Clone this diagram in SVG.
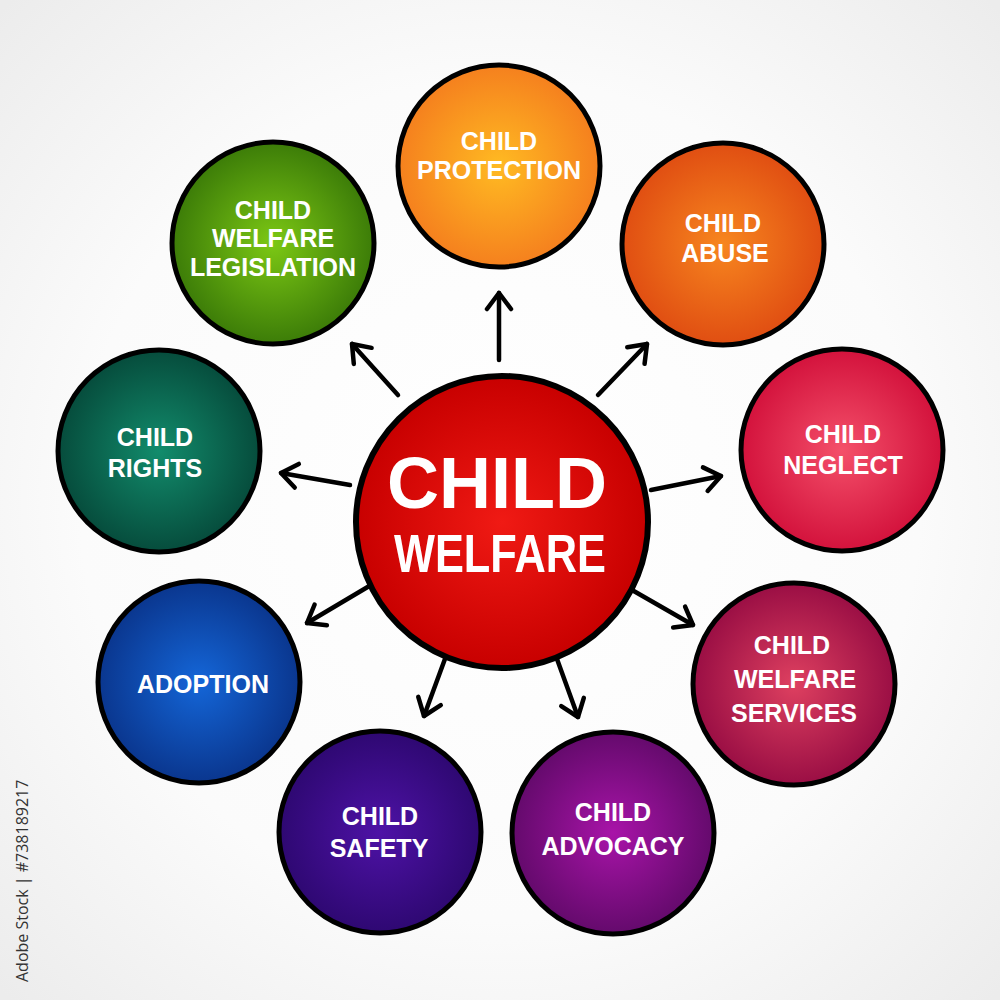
<svg xmlns="http://www.w3.org/2000/svg" width="1000" height="1000" viewBox="0 0 1000 1000">
<defs>
<radialGradient id="bg" cx="50%" cy="50%" r="70%"><stop offset="0" stop-color="#ffffff"/><stop offset="0.6" stop-color="#fbfbfb"/><stop offset="1" stop-color="#ececec"/></radialGradient>
<radialGradient id="gCenter"><stop offset="0" stop-color="#f01a14"/><stop offset="1" stop-color="#c80000"/></radialGradient>
<radialGradient id="gProt"><stop offset="0" stop-color="#ffba22"/><stop offset="1" stop-color="#f5801e"/></radialGradient>
<radialGradient id="gAbuse"><stop offset="0" stop-color="#f7861f"/><stop offset="1" stop-color="#e04e12"/></radialGradient>
<radialGradient id="gNeg"><stop offset="0" stop-color="#f4506a"/><stop offset="1" stop-color="#d3123c"/></radialGradient>
<radialGradient id="gServ"><stop offset="0" stop-color="#de4060"/><stop offset="1" stop-color="#9a0e44"/></radialGradient>
<radialGradient id="gAdv"><stop offset="0" stop-color="#a814a8"/><stop offset="1" stop-color="#640a6c"/></radialGradient>
<radialGradient id="gSafe"><stop offset="0" stop-color="#4e12a6"/><stop offset="1" stop-color="#2e0872"/></radialGradient>
<radialGradient id="gAdop"><stop offset="0" stop-color="#1466d8"/><stop offset="1" stop-color="#0a368e"/></radialGradient>
<radialGradient id="gRights"><stop offset="0" stop-color="#128c6c"/><stop offset="1" stop-color="#064c3c"/></radialGradient>
<radialGradient id="gLeg"><stop offset="0" stop-color="#7cc814"/><stop offset="1" stop-color="#3c7c08"/></radialGradient>
<marker id="arr" markerUnits="userSpaceOnUse" markerWidth="40" markerHeight="40" viewBox="-20 -20 40 40" refX="0" refY="0" orient="auto">
<path d="M -16 -12 L 0 0 L -16 12" fill="none" stroke="#000" stroke-width="4.5" stroke-linecap="round" stroke-linejoin="round"/>
</marker>
<style>
.node{stroke:#000;stroke-width:5}
.lbl{font-family:"Liberation Sans","Arial",sans-serif;font-weight:bold;font-size:25px;fill:#fff;text-anchor:middle;dominant-baseline:central}
.big{font-size:72px}
.conn{stroke:#000;stroke-width:4.5;stroke-linecap:round;fill:none;marker-end:url(#arr)}
.side{font-family:"Open Sans","Liberation Sans",sans-serif;font-size:16px;fill:#333333}
</style>
</defs>
<rect width="1000" height="1000" fill="url(#bg)"/>
<text class="side" transform="translate(28,982) rotate(-90)">Adobe Stock | #738189217</text>
<g id="connectors">
<line class="conn" x1="499" y1="360" x2="499" y2="293"/>
<line class="conn" x1="598" y1="395" x2="647" y2="344"/>
<line class="conn" x1="651" y1="490" x2="721" y2="476"/>
<line class="conn" x1="632" y1="590" x2="693" y2="625"/>
<line class="conn" x1="553" y1="648" x2="578" y2="717"/>
<line class="conn" x1="449" y1="648" x2="424" y2="716"/>
<line class="conn" x1="371" y1="585" x2="307" y2="623"/>
<line class="conn" x1="350" y1="485" x2="281" y2="473"/>
<line class="conn" x1="398" y1="395" x2="352" y2="344"/>
</g>
<g id="center">
<circle cx="502" cy="522" r="146" fill="url(#gCenter)" stroke="#000" stroke-width="6"/>
<text class="lbl big" x="497" y="483">CHILD</text>
<text class="lbl" x="500" y="553" style="font-size:54px" textLength="212" lengthAdjust="spacingAndGlyphs">WELFARE</text>
</g>
<g id="child-protection">
<circle class="node" cx="499" cy="166" r="101" fill="url(#gProt)"/>
<text class="lbl" x="499" y="141">CHILD</text>
<text class="lbl" x="499" y="170">PROTECTION</text>
</g>
<g id="child-abuse">
<circle class="node" cx="723" cy="244" r="101" fill="url(#gAbuse)"/>
<text class="lbl" x="723" y="223">CHILD</text>
<text class="lbl" x="725" y="253">ABUSE</text>
</g>
<g id="child-neglect">
<circle class="node" cx="842" cy="450" r="101" fill="url(#gNeg)"/>
<text class="lbl" x="843" y="434">CHILD</text>
<text class="lbl" x="843" y="465">NEGLECT</text>
</g>
<g id="child-welfare-services">
<circle class="node" cx="794" cy="684" r="101" fill="url(#gServ)"/>
<text class="lbl" x="792" y="645">CHILD</text>
<text class="lbl" x="795" y="679">WELFARE</text>
<text class="lbl" x="794" y="713">SERVICES</text>
</g>
<g id="child-advocacy">
<circle class="node" cx="613" cy="833" r="101" fill="url(#gAdv)"/>
<text class="lbl" x="613" y="812">CHILD</text>
<text class="lbl" x="613" y="846">ADVOCACY</text>
</g>
<g id="child-safety">
<circle class="node" cx="380" cy="832" r="101" fill="url(#gSafe)"/>
<text class="lbl" x="380" y="816">CHILD</text>
<text class="lbl" x="379" y="848">SAFETY</text>
</g>
<g id="adoption">
<circle class="node" cx="199" cy="682" r="101" fill="url(#gAdop)"/>
<text class="lbl" x="203" y="684">ADOPTION</text>
</g>
<g id="child-rights">
<circle class="node" cx="159" cy="451" r="101" fill="url(#gRights)"/>
<text class="lbl" x="155" y="437">CHILD</text>
<text class="lbl" x="155" y="468">RIGHTS</text>
</g>
<g id="child-welfare-legislation">
<circle class="node" cx="273" cy="243" r="101" fill="url(#gLeg)"/>
<text class="lbl" x="273" y="210">CHILD</text>
<text class="lbl" x="273" y="238">WELFARE</text>
<text class="lbl" x="273" y="267">LEGISLATION</text>
</g>
</svg>
